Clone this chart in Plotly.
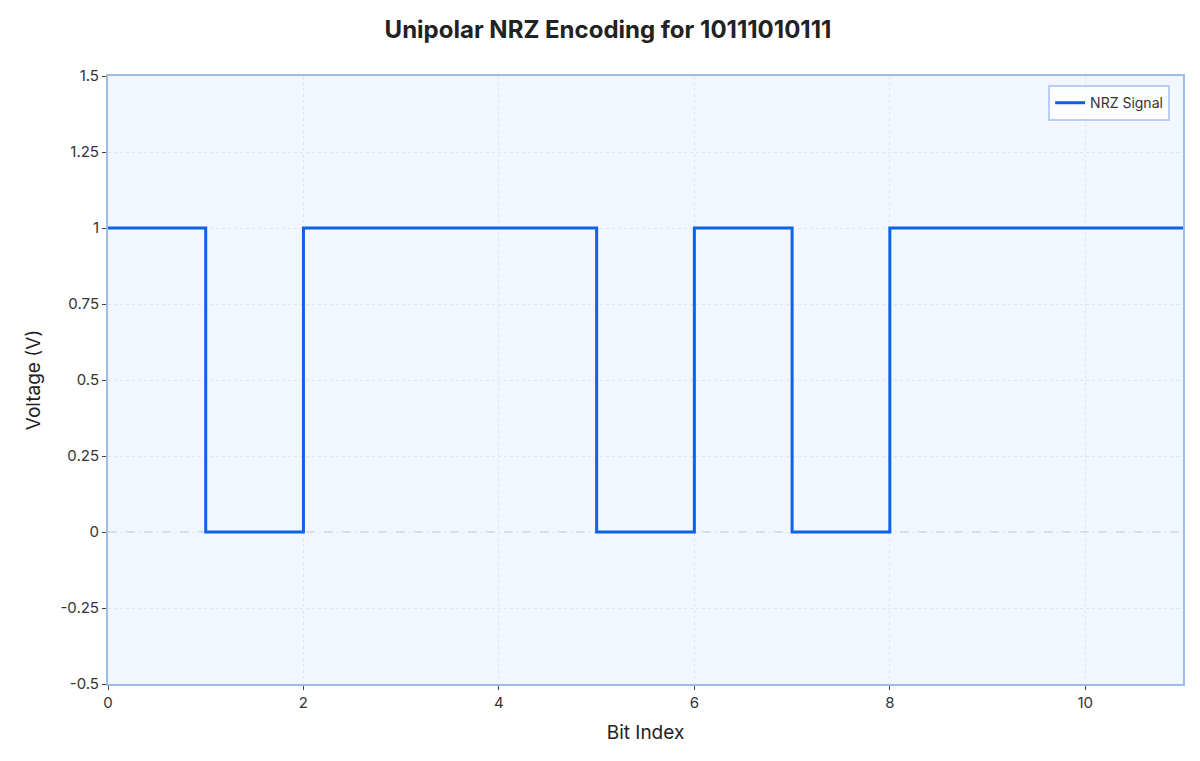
import plotly.graph_objects as go

bits = [1, 0, 1, 1, 1, 0, 1, 0, 1, 1, 1]
bit_index = list(range(len(bits) + 1))
levels = bits + [bits[-1]]
y_ticks = [-0.5, -0.25, 0, 0.25, 0.5, 0.75, 1, 1.25, 1.5]
y_labels = ["-0.5", "-0.25", "0", "0.25", "0.5", "0.75", "1", "1.25", "1.5"]

fig = go.Figure()
fig.add_trace(go.Scatter(
    x=bit_index, y=levels, mode="lines", line_shape="hv",
    line=dict(color="#0d63e8", width=3), name="NRZ Signal", showlegend=True,
))
fig.add_hline(y=0, layer="below", line=dict(color="#c4d3ee", width=1.5, dash="dash"))

axis_common = dict(
    showline=True, linecolor="#9cbcf0", linewidth=2, mirror=True,
    showgrid=True, gridcolor="#e0e6ef", griddash="dot", zeroline=False,
    ticks="outside", ticklen=4, tickcolor="#444",
    tickfont=dict(size=15, color="#333"),
)
fig.update_xaxes(range=[0, 11], dtick=2, title=dict(text="Bit Index", font=dict(size=19, color="#222")), **axis_common)
fig.update_yaxes(range=[-0.5, 1.5], tickvals=y_ticks, ticktext=y_labels,
                 title=dict(text="Voltage (V)", font=dict(size=19, color="#222")), **axis_common)

fig.update_layout(
    width=1200, height=761,
    font=dict(family="Inter, Lato, sans-serif"),
    title=dict(text="<b>Unipolar NRZ Encoding for 10111010111</b>", x=0.5, xanchor="center", y=0.972,
               yanchor="middle", font=dict(size=24, color="#222")),
    plot_bgcolor="#f2f7ff", paper_bgcolor="white",
    margin=dict(l=100, r=25, t=68, b=85),
    legend=dict(x=0.988, y=0.985, xanchor="right", yanchor="top", bgcolor="rgba(255,255,255,0.8)",
                bordercolor="#b8cff5", borderwidth=2, font=dict(size=14, color="#333")),
)

fig.write_html("out.html")
